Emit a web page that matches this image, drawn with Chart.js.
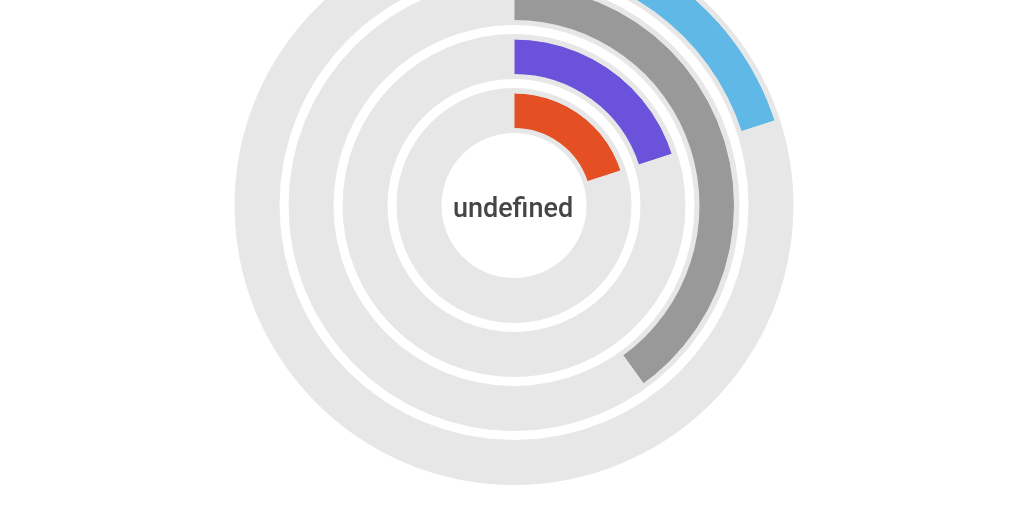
<!DOCTYPE html>
<html>
<head>
<meta charset="utf-8">
<script src="https://cdn.jsdelivr.net/npm/chart.js@4"></script>
<style>
    html, body { margin: 0; padding: 0; width: 1024px; height: 512px; overflow: hidden; background: #ffffff; }
    #radial { position: absolute; left: 234px; top: -74px; }
</style>
</head>
<body>
<canvas id="radial" width="560" height="559"></canvas>
<script>
// rings from outside to inside
let seriesnames = ['Series 1', 'Series 2', 'Series 3', 'Series 4'];
let seriesvalues = [20, 40, 20, 20];
let seriescolors = ['#5fb8e6', '#999999', '#6b52db', '#e44f24'];
let centerlabel = 'undefined';
let maxvalue = 100;

let trackcolor = '#e7e7e7';

// weights are ring thickness in px (radius length is 1px per weight unit)
let padweight = 4.5;
let bandweight = 35;
let gapweight = 10;

function radial_buildsets() {
    let datasets = [];
    for (let i=0; i<seriesvalues.length; i++) {
        let value = seriesvalues[i];
        // outer part of the track, thin border hides the antialias seam
        datasets.push({
            label: seriesnames[i] + ' track',
            data: [maxvalue],
            backgroundColor: [trackcolor],
            borderColor: trackcolor,
            borderWidth: 1,
            weight: padweight,
        });
        // the bar itself, remainder is track
        datasets.push({
            label: seriesnames[i],
            data: [value, maxvalue - value],
            backgroundColor: [seriescolors[i], trackcolor],
            borderColor: [seriescolors[i], trackcolor],
            borderWidth: [0, 1],
            weight: bandweight,
        });
        // inner part of the track
        datasets.push({
            label: seriesnames[i] + ' track',
            data: [maxvalue],
            backgroundColor: [trackcolor],
            borderColor: trackcolor,
            borderWidth: 1,
            weight: padweight,
        });
        // white gap between rings
        if (i < seriesvalues.length - 1) {
            datasets.push({
                label: 'gap',
                data: [maxvalue],
                backgroundColor: ['rgba(0,0,0,0)'],
                borderWidth: 0,
                weight: gapweight,
            });
        }
    }
    return datasets;
}

// center text
let centertextplugin = {
    id: 'centertext',
    afterDraw: function(chart) {
        let ctx = chart.ctx;
        let area = chart.chartArea;
        ctx.save();
        ctx.font = '500 27px Roboto';
        ctx.fillStyle = '#454545';
        ctx.textAlign = 'center';
        ctx.textBaseline = 'alphabetic';
        ctx.fillText(centerlabel, (area.left + area.right) / 2 - 1, (area.top + area.bottom) / 2 + 11.2);
        ctx.restore();
    }
};

let radialchart = new Chart(document.getElementById('radial'), {
    type: 'doughnut',
    data: {
        labels: ['value', 'rest'],
        datasets: radial_buildsets(),
    },
    options: {
        responsive: false,
        animation: false,
        radius: 279,
        cutout: (73 / 279 * 100) + '%',
        hoverOffset: 0,
        layout: { padding: 0 },
        plugins: {
            legend: { display: false },
            tooltip: { enabled: false },
        },
        events: [],
    },
    plugins: [centertextplugin],
});
</script>
</body>
</html>
